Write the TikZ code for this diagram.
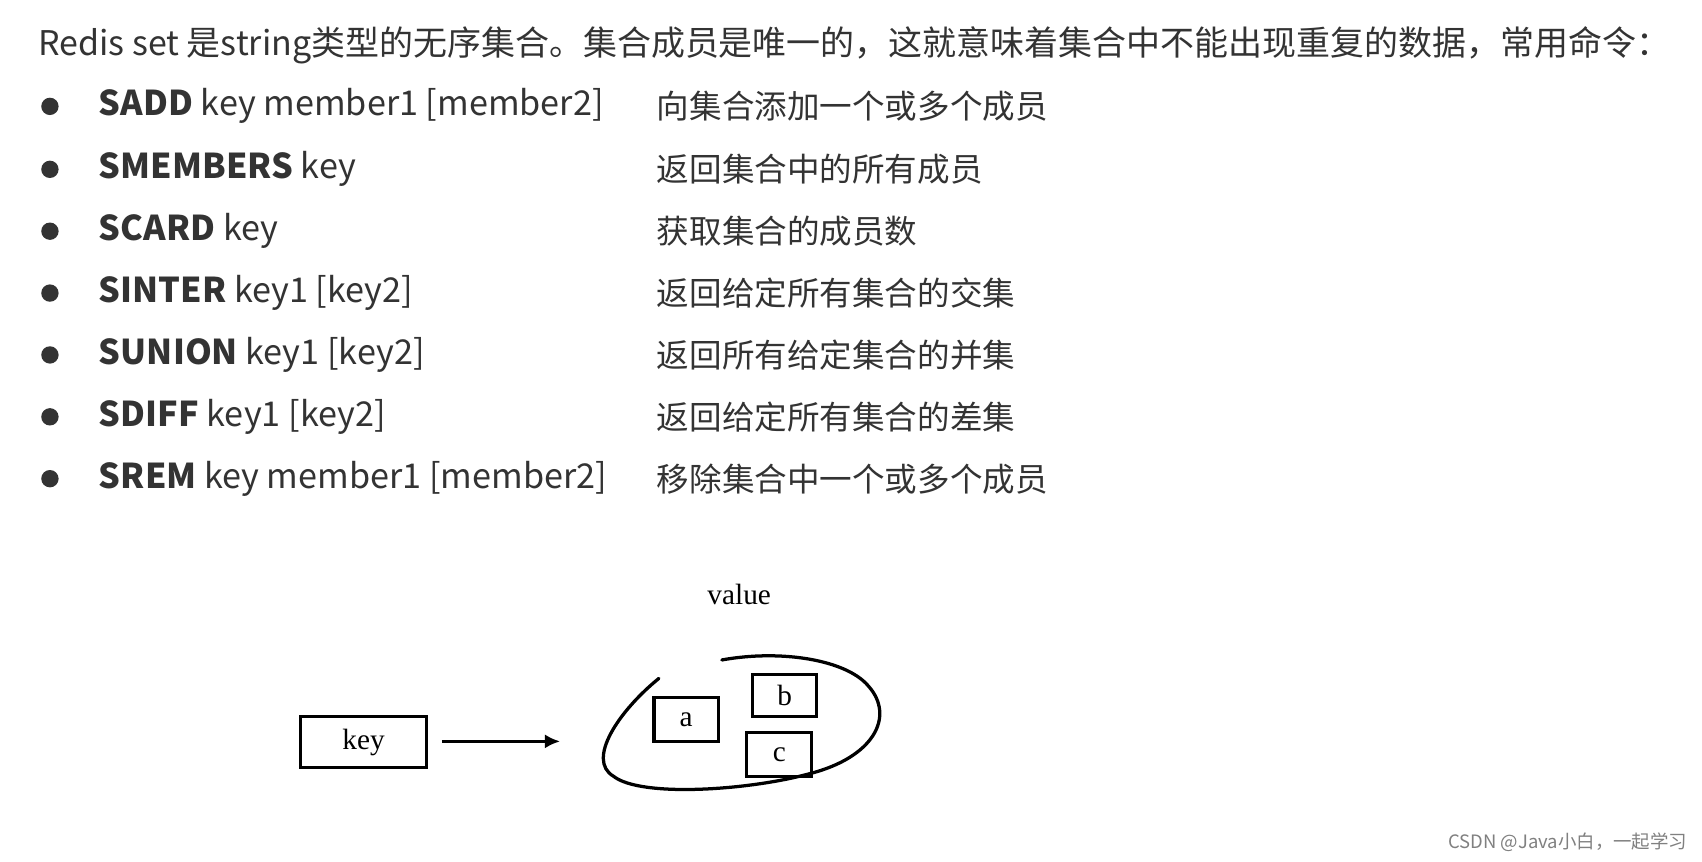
\documentclass[tikz,border=0pt]{standalone}
\usepackage{fontspec}
\usetikzlibrary{arrows.meta}
\setmainfont{Noto Sans CJK SC}
\newfontfamily\serifx{Liberation Serif}
\definecolor{txt}{HTML}{333333}
\begin{document}
\begin{tikzpicture}[x=1pt,y=-1pt,
  line/.style={anchor=west,inner sep=0pt,text=txt,font=\fontsize{31.3}{36}\selectfont},
  cmd/.style={anchor=west,inner sep=0pt,text=txt,font=\fontsize{31.5}{36}\selectfont},
  desc/.style={anchor=west,inner sep=0pt,text=txt,font=\fontsize{30}{36}\selectfont},
  bul/.style={circle,fill=txt,minimum size=16pt,inner sep=0pt},
  sbox/.style={draw,line width=2.8pt,inner sep=0pt,font=\serifx\fontsize{27}{30}\selectfont},
  lbl/.style={font=\serifx\fontsize{27}{30}\selectfont}]
\useasboundingbox (0,0) rectangle (1568,794);
\fill[white] (0,0) rectangle (1568,794);
\node[line] (hd) at (35,42) {Redis set 是string类型的无序集合。集合成员是唯一的，这就意味着集合中不能出现重复的数据，常用命令：};
\foreach \y/\c/\a/\d [count=\i] in {
 98/SADD/key member1 [member2]/向集合添加一个或多个成员,
 156/SMEMBERS/key/返回集合中的所有成员,
 213/SCARD/key/获取集合的成员数,
 270/SINTER/key1 [key2]/返回给定所有集合的交集,
 327/SUNION/key1 [key2]/返回所有给定集合的并集,
 384/SDIFF/key1 [key2]/返回给定所有集合的差集,
 441/SREM/key member1 [member2]/移除集合中一个或多个成员}{
  \node[bul] (b\i) at (46,\y) {};
  \node[cmd] (c\i) at (91,\y) {\textbf{\c} \a};
  \node[desc] (d\i) at (605,\y) {\d};
}
\node[lbl] (value) at (681,548) {value};
\node[sbox,minimum width=116pt,minimum height=47pt] (key) at (335,684) {key};
\node[sbox,minimum width=59pt,minimum height=41pt] (a) at (632,663) {a};
\node[sbox,minimum width=59pt,minimum height=39pt] (b) at (723,641) {b};
\node[sbox,minimum width=60pt,minimum height=40pt] (c) at (718,695) {c};
\coordinate (tip) at (516,683);
\coordinate (tail) at (407,683);
\draw[line width=2.6pt,-{Latex[length=14pt,width=13pt]}] (tail) -- (tip);
\draw[line width=3pt,line cap=round] (607,625) .. controls (570,655) and (540,700) .. (565,715)
  .. controls (590,735) and (690,728) .. (745,713)
  .. controls (805,698) and (825,660) .. (800,632)
  .. controls (780,608) and (720,598) .. (665,608);
\node[anchor=east,text=gray,font=\fontsize{17}{20}\selectfont] (wm) at (1558,776) {CSDN @Java小白，一起学习};
\end{tikzpicture}
\end{document}
